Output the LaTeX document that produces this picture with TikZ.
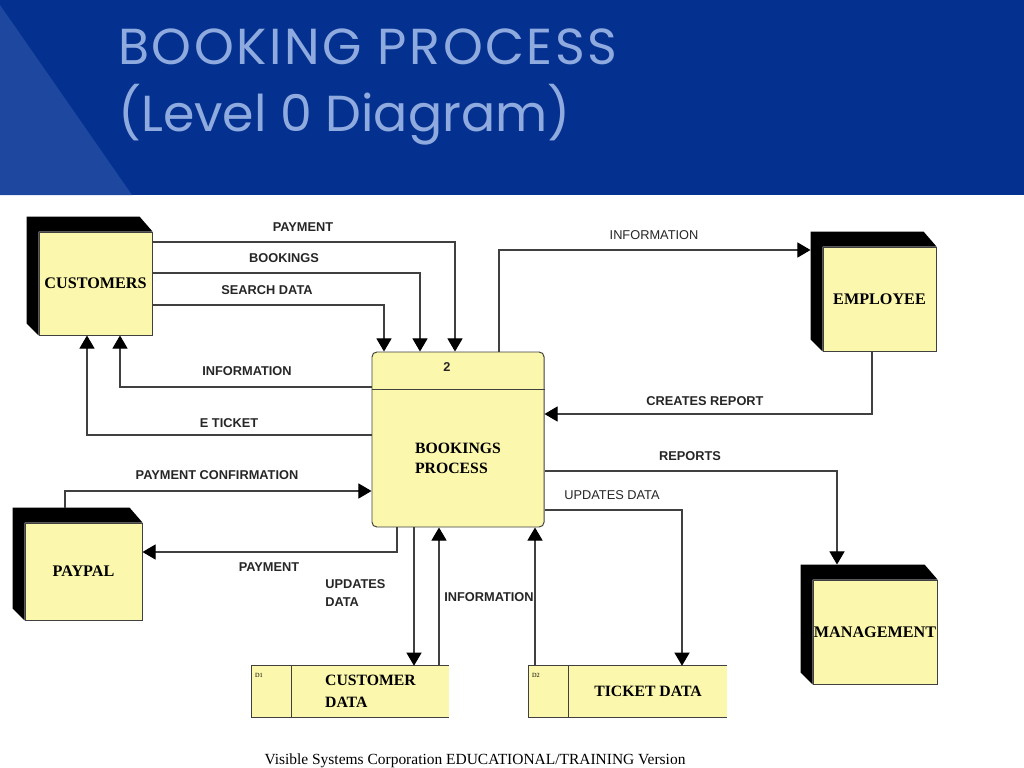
\documentclass[tikz,border=0pt]{standalone}
\usepackage{fontspec}
\setmainfont{Liberation Serif}
\newfontfamily\labelFont{Liberation Sans}
\newfontfamily\titleFont{Poppins}
\usepackage{tikz}
\usetikzlibrary{positioning,arrows.meta,calc}
\tikzstyle{slide} = [x = 0.025cm, y = -0.025cm]
\definecolor{headerBlue}{RGB}{4,49,143}
\definecolor{headerLight}{RGB}{30,72,160}
\definecolor{titleColor}{RGB}{143,170,222}
\definecolor{boxYellow}{RGB}{251,247,172}
\definecolor{lineColor}{RGB}{64,64,64}
\tikzstyle{titleText} = [font=\titleFont\fontsize{36}{40}\selectfont, text=titleColor, inner sep=0]
\tikzstyle{boxLine} = [draw=lineColor, line width=.7pt]
\tikzstyle{entityStyle} = [boxLine, fill=boxYellow, inner sep=0, font=\bfseries\fontsize{11.5}{13}\selectfont]
\tikzstyle{shadowStyle} = [fill=black]
\tikzstyle{processStyle} = [boxLine, fill=boxYellow, rounded corners=.12cm]
\tikzstyle{storeStyle} = [fill=boxYellow, inner sep=0]
\tikzstyle{flow} = [draw=lineColor, line width=.8pt, -{Triangle[length=.33cm, width=.38cm, color=black]}]
\tikzstyle{flowText} = [font=\labelFont\bfseries\fontsize{9.1}{12.8}\selectfont, text=black!85, inner sep=0, align=left]
\tikzstyle{flowTextLight} = [font=\labelFont\fontsize{9.1}{12.8}\selectfont, text=black!85, inner sep=0]
\tikzstyle{nameText} = [font=\bfseries\fontsize{11.2}{14.2}\selectfont, align=left, inner sep=0]
\tikzstyle{storeText} = [font=\bfseries\fontsize{11.2}{15.6}\selectfont, align=left, inner sep=0]
\tikzstyle{storeId} = [font=\fontsize{4.5}{5}\selectfont, inner sep=0]
\tikzstyle{footText} = [font=\fontsize{11}{13}\selectfont, inner sep=0]
\newcommand{\entity}[6]{
  \node [entityStyle, minimum width=#4*0.025cm, minimum height=#5*0.025cm] (#1) at (#2,#3) {#6};
  \coordinate (#1 shadow) at ([shift={(-12,-15)}]#1.north west);
  \fill [shadowStyle] (#1.south west) -- ([shift={(-12,-12)}]#1.south west) -- (#1 shadow)
    -- ([shift={(-13,-15)}]#1.north east) -- (#1.north east) -- (#1.north west) -- cycle;
}
\newcommand{\dataStore}[6]{
  \node [storeStyle, minimum width=#4*0.025cm, minimum height=51*0.025cm] (#1) at (#2,#3) {};
  \draw [boxLine] (#1.north east) -- (#1.north west) -- (#1.south west) -- (#1.south east);
  \coordinate (#1 div) at ([shift={(40,0)}]#1.north west);
  \draw [boxLine] (#1 div) -- (#1 div |- #1.south);
  \node [storeId, anchor=north west] (#1 id) at ([shift={(3,7)}]#1.north west) {#5};
  \node [storeText] (#1 name) at ($(#1 div)!0.5!(#1.south east)$) {#6};
}

\begin{document}
\begin{tikzpicture}[slide]
  \useasboundingbox (0,0) rectangle (1024,768);
  % header
  \fill [headerBlue] (0,0) rectangle (1024,195);
  \fill [headerLight] (0,5) -- (132,195) -- (0,195) -- cycle;
  \node [titleText, anchor=base west] (titleTop) at (118,65) {\addfontfeature{LetterSpace=5}BOOKING PROCESS};
  \node [titleText, anchor=base west] (titleBottom) at (118,132) {(Level 0 Diagram)};

  % external entities
  \entity{cust}{95.5}{283.5}{113}{103}{CUSTOMERS}
  \entity{emp}{879.5}{299}{113}{104}{EMPLOYEE}
  \entity{mgmt}{875}{632}{124}{104}{MANAGEMENT}
  \entity{pay}{83.5}{571.5}{117}{97}{PAYPAL}

  % process
  \node [processStyle, minimum width=172*0.025cm, minimum height=175*0.025cm] (proc) at (458,439.5) {};
  \draw [boxLine] (proc.west |- 0,389) -- (proc.east |- 0,389);
  \node [flowText] (procId) at (447,367) {2};
  \node [nameText] (procName) at (458,458) {BOOKINGS\\PROCESS};

  % data stores
  \dataStore{custData}{350.5}{691.5}{197}{D1}{CUSTOMER\\DATA}
  \dataStore{tktData}{628}{691.5}{198}{D2}{TICKET DATA}

  % flows with customers
  \draw [flow] (cust.east |- 0,242) -| (proc.north -| 455,0);
  \draw [flow] (cust.east |- 0,273) -| (proc.north -| 420,0);
  \draw [flow] (cust.east |- 0,305) -| (proc.north -| 384,0);
  \draw [flow] (proc.west |- 0,387) -| (cust.south -| 120,0);
  \draw [flow] (proc.west |- 0,435) -| (cust.south -| 87,0);
  \node [flowText] (payLabel) at (303,227) {PAYMENT};
  \node [flowText] (bookLabel) at (284,258) {BOOKINGS};
  \node [flowText] (searchLabel) at (267,290) {SEARCH DATA};
  \node [flowText] (infoLabel) at (247,371) {INFORMATION};
  \node [flowText] (ticketLabel) at (229,423) {E TICKET};

  % flows with employee and management
  \draw [flow] (proc.north -| 499,0) |- (emp shadow |- 0,250);
  \draw [flow] (emp.south -| 872,0) |- (proc.east |- 0,414);
  \draw [flow] (proc.east |- 0,471) -| (mgmt shadow -| 837,0);
  \node [flowTextLight] (empInfoLabel) at (654,235) {INFORMATION};
  \node [flowText] (reportLabel) at (705,401) {CREATES REPORT};
  \node [flowText] (reportsLabel) at (690,456) {REPORTS};

  % flows with paypal
  \draw [flow] (pay shadow -| 65,0) |- (proc.west |- 0,491);
  \draw [flow] (proc.south -| 397,0) |- (pay.east |- 0,552);
  \node [flowText] (confirmLabel) at (217,475) {PAYMENT CONFIRMATION};
  \node [flowText] (payOutLabel) at (269,567) {PAYMENT};

  % flows with data stores
  \draw [flow] (proc.east |- 0,510) -| (tktData.north -| 682,0);
  \draw [flow] (proc.south -| 414,0) -- (custData.north -| 414,0);
  \draw [flow] (custData.north -| 439,0) -- (proc.south -| 439,0);
  \draw [flow] (tktData.north -| 535,0) -- (proc.south -| 535,0);
  \node [flowTextLight] (updateLabel) at (612,495) {UPDATES DATA};
  \node [flowText, anchor=west] (custUpdateLabel) at (325,593) {UPDATES\\DATA};
  \node [flowText] (storeInfoLabel) at (489,597) {INFORMATION};

  \node [footText, anchor=base] (footer) at (475,764) {Visible Systems Corporation EDUCATIONAL/TRAINING Version};
\end{tikzpicture}
\end{document}
